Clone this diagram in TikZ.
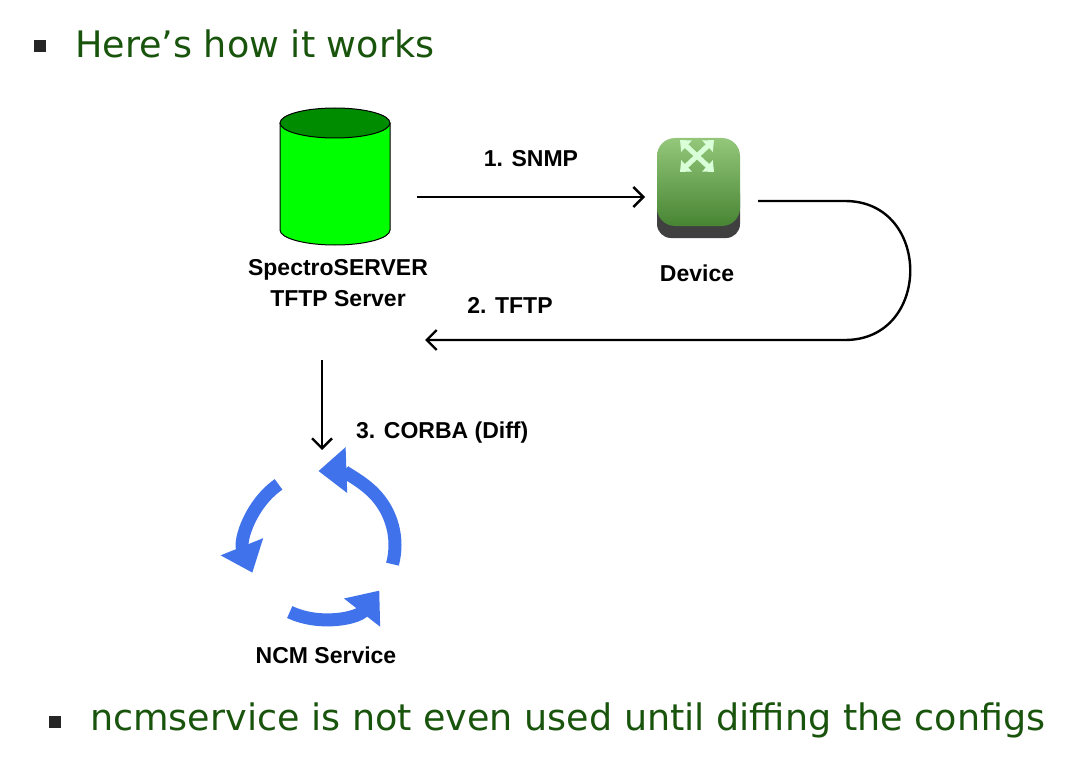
\documentclass[tikz,border=0pt]{standalone}
\usepackage{fontspec}
\setmainfont{DejaVu Sans}
\newfontfamily\lab{Liberation Sans}
\usetikzlibrary{arrows.meta,positioning}
\definecolor{slideGreen}{rgb}{0.1,0.33,0.05}
\definecolor{dbGreen}{rgb}{0.0,1.0,0.0}
\definecolor{dbTop}{rgb}{0.0,0.55,0.0}
\definecolor{cycleBlue}{rgb}{0.25,0.45,0.92}
\definecolor{devLight}{rgb}{0.58,0.78,0.48}
\definecolor{devDark}{rgb}{0.28,0.52,0.2}
\tikzset{
  title/.style={text=slideGreen, font=\fontsize{36.5}{40}\selectfont, anchor=west, inner sep=0pt},
  bulletbox/.style={fill=black!85, minimum size=12pt, inner sep=0pt},
  lbl/.style={font=\lab\bfseries\fontsize{23}{25}\selectfont, inner sep=1pt},
  flow/.style={line width=2.4pt, -{Straight Barb[length=10pt,width=20pt,line width=2.4pt]}},
  turn/.style={line width=13pt, cycleBlue, -{Triangle[length=28pt,width=44pt]}},
  cross/.style={white!85!green, line width=5pt, {Triangle[length=9pt,width=15pt]}-{Triangle[length=9pt,width=15pt]}}
}
\begin{document}
\begin{tikzpicture}[x=1pt,y=-1pt]
  \useasboundingbox (0,0) rectangle (1076,757);

  % headline
  \node[bulletbox] (b1) at (40,46) {};
  \node[title] (head) at (75,44) {Here’s how it works};

  % SpectroSERVER database
  \fill[dbGreen] (280,123) -- (280,230) arc[start angle=180,end angle=0,x radius=55,y radius=15] -- (390,123) -- cycle;
  \draw[line width=1pt] (280,123) -- (280,230) arc[start angle=180,end angle=0,x radius=55,y radius=15] -- (390,123);
  \draw[line width=1pt, fill=dbTop] (335,123) ellipse[x radius=55, y radius=15];
  \node[minimum width=110pt, minimum height=125pt, inner sep=0pt] (srv) at (335,180) {};
  \node[lbl] (srvname) at (338,270) {SpectroSERVER};
  \node[lbl, below=8pt of srvname] (srvtftp) {TFTP Server};

  % device
  \fill[black!75, rounded corners=14pt] (657,180) rectangle (740,238);
  \shade[top color=devLight, bottom color=devDark, rounded corners=18pt]
        (657,138) rectangle (740,226);
  \node[minimum width=83pt, minimum height=100pt, inner sep=0pt] (dev) at (698,188) {};
  \draw[cross] (680,140) -- (714,172);
  \draw[cross] (714,140) -- (680,172);
  \node[lbl] (devname) at (697,273) {Device};

  % connectors
  \coordinate (snmpA) at (417,197);
  \coordinate (snmpB) at (645,197);
  \draw[flow] (snmpA) -- (snmpB) node[lbl, midway, above=28pt] (snmp) {1. SNMP};

  \coordinate (tftpA) at (758,201);
  \coordinate (tftpB) at (845,201);
  \coordinate (tftpC) at (845,340);
  \coordinate (tftpD) at (425,340);
  \draw[flow] (tftpA) -- (tftpB) .. controls (932,201) and (932,340) .. (tftpC) -- (tftpD);
  \node[lbl] (tftp) at (510,305) {2. TFTP};

  \coordinate (corbaA) at (322,360);
  \coordinate (corbaB) at (322,450);
  \draw[flow] (corbaA) -- (corbaB);
  \node[lbl, anchor=west] (corba) at (355,433) {3. CORBA (Diff)};

  % NCM service cycle
  \begin{scope}[shift={(321,545)}, y=1pt]
    \draw[turn] (-15:74) arc[start angle=-15, end angle=92, radius=74];
    \draw[turn] (125:74) arc[start angle=125, end angle=202, radius=74];
    \draw[turn] (245:74) arc[start angle=245, end angle=322, radius=74];
  \end{scope}
  \node[lbl] (ncm) at (326,655) {NCM Service};

  % closing note
  \node[bulletbox] (b2) at (55,722) {};
  \node[title] (note) at (90,720) {ncmservice is not even used until diffing the configs};
\end{tikzpicture}
\end{document}
